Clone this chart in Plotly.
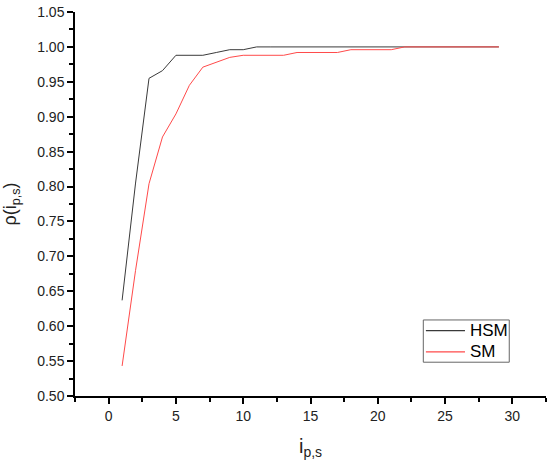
import plotly.graph_objects as go

# values
x_vals = list(range(1, 30))
hsm = [0.637, 0.805, 0.955, 0.966, 0.988, 0.988, 0.988, 0.992, 0.996, 0.996,
       1.0, 1.0, 1.0, 1.0, 1.0, 1.0, 1.0, 1.0, 1.0, 1.0,
       1.0, 1.0, 1.0, 1.0, 1.0, 1.0, 1.0, 1.0, 1.0]
sm = [0.543, 0.68, 0.804, 0.871, 0.904, 0.945, 0.971, 0.978, 0.985, 0.988,
      0.988, 0.988, 0.988, 0.992, 0.992, 0.992, 0.992, 0.996, 0.996, 0.996,
      0.996, 1.0, 1.0, 1.0, 1.0, 1.0, 1.0, 1.0, 1.0]
series_names = ['HSM', 'SM']
series_colors = ['#3a3a3a', '#ff4a4a']
y_ticks = [0.50, 0.55, 0.60, 0.65, 0.70, 0.75, 0.80, 0.85, 0.90, 0.95, 1.00, 1.05]
x_ticks = [0, 5, 10, 15, 20, 25, 30]

fig = go.Figure()

for name, ys, col in zip(series_names, [hsm, sm], series_colors):
    fig.add_trace(go.Scatter(
        x=x_vals, y=ys, mode='lines', name=name,
        line=dict(color=col, width=1), showlegend=False
    ))

axis_common = dict(
    showgrid=False, zeroline=False, showline=True, linecolor='black', linewidth=1.5,
    ticks='outside', ticklen=6, tickwidth=1.5, tickcolor='black', automargin=False,
    ticklabeloverflow='allow',
    tickfont=dict(family='Liberation Sans, Arial', size=14, color='#222'),
)

# legend box drawn like the original (boxed, compact rows)
legend_rows_y = [0.170, 0.115]
shapes = [dict(type='rect', xref='paper', yref='paper', x0=0.7395, x1=0.922, y0=0.088, y1=0.198,
               line=dict(color='#666', width=1), fillcolor='white', layer='above')]
annotations = []
for name, col, ly in zip(series_names, series_colors, legend_rows_y):
    shapes.append(dict(type='line', xref='paper', yref='paper', x0=0.745, x1=0.828, y0=ly, y1=ly,
                       line=dict(color=col, width=1.2), layer='above'))
    annotations.append(dict(xref='paper', yref='paper', x=0.835, y=ly, text=name, showarrow=False,
                            xanchor='left', yanchor='middle', font=dict(size=17, color='black')))

fig.update_layout(
    width=550, height=462,
    margin=dict(l=75, r=4, t=12, b=66),
    plot_bgcolor='white', paper_bgcolor='white',
    font=dict(family='Liberation Sans, Arial', size=14, color='#222'),
    shapes=shapes, annotations=annotations,
    xaxis=dict(
        range=[-2.5, 32.5], tickvals=x_ticks,
        minor=dict(ticks='outside', ticklen=4, tickwidth=1.5, tickcolor='black', dtick=2.5, tick0=0),
        title=dict(text='i<sub>p,s</sub>', font=dict(size=20), standoff=16),
        **axis_common
    ),
    yaxis=dict(
        range=[0.5, 1.05], tickvals=y_ticks, tickformat='.2f',
        minor=dict(ticks='outside', ticklen=4, tickwidth=1.5, tickcolor='black', dtick=0.025, tick0=0.5),
        title=dict(text='ρ(i<sub>p,s</sub>)', font=dict(size=18), standoff=20),
        **axis_common
    ),
)

# drop the page's default 8px body margin so the figure fills the window
fig.write_html("out.html", config={'displayModeBar': False},
               post_script="document.body.style.margin='0';")
